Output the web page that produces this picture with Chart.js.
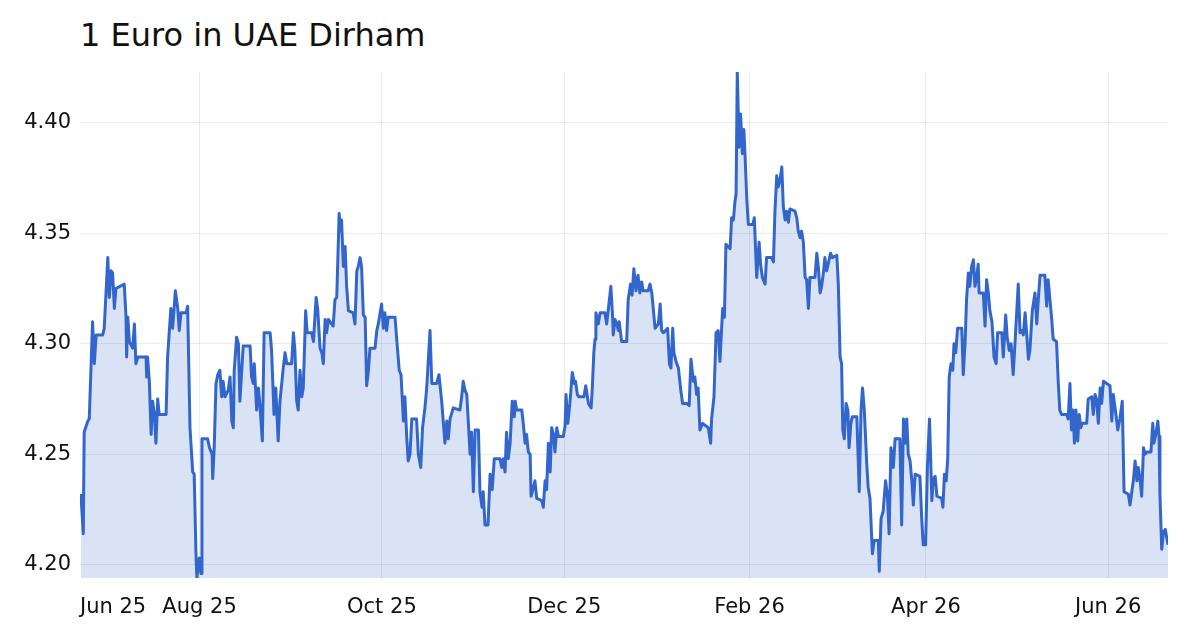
<!DOCTYPE html>
<html>
<head>
<meta charset="utf-8">
<script src="https://cdn.jsdelivr.net/npm/chart.js@4"></script>
<style>
  html, body { margin: 0; padding: 0; background: #fff; }
  .wrap { position: relative; width: 1200px; height: 630px; }
  .title {
    position: absolute; left: 80px; top: 15px;
    font-family: "DejaVu Sans", sans-serif; font-size: 32px; color: #111;
    line-height: 40px; margin: 0; font-weight: normal;
  }
  canvas { position: absolute; left: 0; top: 0; }
</style>
</head>
<body>
<div class="wrap">
  <h1 class="title">1 Euro in UAE Dirham</h1>
  <canvas id="chartCanvas" width="1200" height="630"></canvas>
</div>
<script>
// days since 22 Jun 2025
const rateDays = [
  0.3, 1.1, 1.4, 2.6, 3.1, 4.2, 4.8, 5.4, 7.6, 8.1, 9.3, 9.8, 10.4, 10.9, 11.5, 12.0, 14.8, 15.4, 15.6, 16.0,
  16.5, 17.6, 18.2, 18.7, 19.4, 22.1, 22.3, 22.6, 23.2, 23.8, 24.3, 24.9, 25.4, 26.0, 26.5, 28.8, 29.3, 30.4, 31.0, 31.9,
  32.7, 33.2, 33.8, 35.5, 36.0, 36.8, 37.7, 38.2, 38.8, 39.1, 39.9, 40.5, 40.8, 42.7, 43.3, 44.2, 44.4, 44.9, 45.5, 46.1,
  46.8, 47.4, 47.9, 48.5, 49.6, 50.2, 50.8, 51.3, 51.6, 52.4, 53.0, 53.5, 54.6, 56.9, 57.4, 58.0, 58.3, 59.1, 59.7, 60.2,
  61.0, 61.6, 63.6, 64.1, 64.9, 65.5, 66.3, 66.9, 68.0, 68.6, 69.2, 70.8, 71.4, 71.9, 72.5, 73.0, 73.6, 74.2, 74.7, 75.5,
  76.0, 77.5, 78.1, 79.0, 79.5, 80.3, 80.9, 81.4, 82.0, 82.5, 83.1, 84.7, 85.3, 85.9, 86.7, 87.2, 87.5, 88.1, 88.7, 89.2,
  89.8, 91.4, 92.0, 92.6, 93.1, 93.7, 94.2, 94.8, 95.4, 95.9, 96.5, 97.0, 98.7, 99.3, 99.8, 100.9, 101.5, 102.0, 102.6, 103.1,
  105.4, 105.9, 106.8, 107.4, 108.2, 108.7, 109.3, 109.8, 110.4, 111.0, 112.6, 113.2, 114.0, 114.6, 115.4, 116.0, 117.1, 117.7, 119.3, 120.1,
  121.0, 122.1, 122.7, 123.2, 123.8, 124.9, 127.1, 127.7, 128.2, 128.8, 129.4, 129.9, 130.5, 131.0, 131.6, 132.2, 133.3, 133.8, 134.5, 134.9,
  135.5, 136.5, 137.2, 137.9, 138.6, 140.5, 141.1, 141.6, 142.2, 142.7, 143.3, 143.9, 144.6, 145.3, 145.6, 146.1, 147.8, 148.3, 148.9, 149.4,
  150.0, 150.6, 150.9, 151.7, 152.2, 152.8, 154.5, 155.0, 155.6, 156.1, 156.7, 157.3, 157.8, 158.4, 158.9, 159.5, 160.1, 161.7, 162.3, 162.6,
  163.2, 163.9, 164.7, 165.4, 165.8, 166.4, 166.9, 168.6, 169.2, 170.1, 171.0, 171.4, 171.9, 172.3, 172.6, 173.4, 174.0, 175.6, 176.2, 176.7,
  177.6, 178.2, 178.4, 179.0, 179.6, 180.1, 180.4, 181.2, 182.9, 183.4, 184.2, 184.7, 185.3, 186.0, 186.7, 187.3, 187.9, 188.4, 190.1, 190.7,
  191.3, 192.4, 193.5, 194.1, 194.6, 195.2, 196.6, 197.2, 197.7, 198.3, 198.7, 199.4, 200.2, 201.0, 201.6, 203.0, 203.8, 204.4, 205.2, 205.7,
  206.3, 206.8, 207.4, 208.3, 210.2, 211.0, 211.3, 212.1, 212.8, 213.5, 214.1, 215.0, 215.6, 216.1, 217.5, 218.0, 218.6, 219.1, 219.5, 219.9,
  220.5, 221.0, 221.6, 222.1, 222.5, 223.1, 223.6, 225.1, 225.6, 226.4, 227.2, 227.7, 228.3, 229.2, 229.7, 231.4, 232.0, 232.5, 233.1, 233.6,
  234.2, 234.8, 235.3, 235.9, 236.4, 237.0, 237.5, 239.2, 239.8, 240.3, 240.9, 241.4, 242.0, 242.6, 243.1, 243.7, 244.2, 245.9, 246.5, 247.0,
  247.6, 248.1, 248.7, 249.2, 249.8, 250.3, 251.1, 251.7, 253.2, 253.7, 254.3, 254.8, 255.2, 255.7, 256.3, 256.9, 257.3, 257.9, 258.4, 259.9,
  260.3, 260.7, 261.3, 261.8, 262.4, 263.2, 263.7, 264.3, 265.1, 265.7, 267.1, 267.4, 268.0, 268.7, 269.5, 270.1, 270.7, 271.3, 272.1, 272.7,
  274.3, 274.9, 275.5, 276.1, 276.6, 277.1, 277.7, 278.3, 278.8, 279.4, 281.0, 281.6, 282.1, 282.9, 283.5, 284.2, 285.0, 285.5, 286.1, 286.7,
  288.3, 288.7, 289.2, 289.8, 290.3, 290.8, 291.4, 292.0, 292.4, 293.0, 293.6, 295.0, 295.5, 296.1, 296.6, 297.2, 297.7, 298.3, 298.9, 299.4,
  300.0, 300.5, 300.8, 302.2, 302.8, 303.3, 303.9, 304.4, 305.1, 305.8, 306.5, 307.0, 308.4, 308.9, 309.7, 310.2, 310.9, 311.5, 312.2, 312.8,
  313.9, 314.5, 315.1, 315.6, 316.2, 316.7, 317.3, 317.8, 318.6, 319.5, 320.1, 320.6, 321.2, 322.8, 323.4, 323.9, 324.5, 325.1, 325.6, 326.7,
  327.3, 327.8, 328.4, 330.1, 330.6, 331.2, 331.7, 332.2, 332.7, 333.2, 333.8, 334.3, 334.8, 335.3, 336.8, 337.3, 338.5, 339.0, 339.6, 340.1,
  340.7, 341.3, 341.8, 342.4, 343.5, 344.6, 345.2, 345.7, 346.3, 347.2, 347.9, 348.7, 349.3, 350.7, 351.3, 351.9, 352.4, 353.0, 353.6, 354.1,
  354.7, 355.2, 355.8, 356.3, 356.9, 358.3, 358.9, 359.3, 359.9, 360.6, 361.0, 361.3, 361.9, 362.5, 363.1, 364.0
];

const rateValues = [
  4.232, 4.214, 4.260, 4.265, 4.266, 4.310, 4.291, 4.304, 4.304, 4.307, 4.339, 4.321, 4.333, 4.332, 4.316, 4.325, 4.327, 4.312, 4.294, 4.312,
  4.301, 4.298, 4.309, 4.291, 4.294, 4.294, 4.285, 4.294, 4.283, 4.259, 4.274, 4.268, 4.255, 4.275, 4.268, 4.268, 4.294, 4.316, 4.307, 4.324,
  4.316, 4.306, 4.314, 4.314, 4.317, 4.262, 4.242, 4.241, 4.205, 4.194, 4.203, 4.196, 4.257, 4.257, 4.253, 4.250, 4.239, 4.253, 4.282, 4.286,
  4.288, 4.276, 4.283, 4.276, 4.279, 4.285, 4.265, 4.262, 4.288, 4.303, 4.300, 4.274, 4.299, 4.299, 4.285, 4.282, 4.291, 4.270, 4.280, 4.272,
  4.256, 4.305, 4.305, 4.297, 4.268, 4.280, 4.256, 4.274, 4.289, 4.296, 4.291, 4.291, 4.305, 4.297, 4.274, 4.270, 4.288, 4.276, 4.280, 4.315,
  4.305, 4.305, 4.301, 4.321, 4.316, 4.298, 4.296, 4.291, 4.311, 4.305, 4.311, 4.308, 4.320, 4.321, 4.359, 4.351, 4.356, 4.335, 4.344, 4.326,
  4.315, 4.314, 4.309, 4.333, 4.335, 4.339, 4.335, 4.313, 4.312, 4.281, 4.288, 4.298, 4.298, 4.306, 4.309, 4.318, 4.307, 4.314, 4.306, 4.312,
  4.312, 4.303, 4.288, 4.286, 4.265, 4.276, 4.258, 4.247, 4.250, 4.266, 4.266, 4.250, 4.244, 4.262, 4.271, 4.280, 4.306, 4.282, 4.282, 4.286,
  4.274, 4.255, 4.265, 4.257, 4.266, 4.271, 4.270, 4.276, 4.283, 4.279, 4.277, 4.265, 4.250, 4.260, 4.233, 4.261, 4.261, 4.233, 4.226, 4.233,
  4.218, 4.218, 4.241, 4.234, 4.248, 4.248, 4.244, 4.248, 4.242, 4.260, 4.248, 4.255, 4.274, 4.267, 4.274, 4.270, 4.270, 4.264, 4.255, 4.259,
  4.251, 4.250, 4.231, 4.235, 4.238, 4.230, 4.229, 4.226, 4.238, 4.234, 4.255, 4.242, 4.262, 4.259, 4.251, 4.262, 4.258, 4.258, 4.263, 4.277,
  4.264, 4.273, 4.287, 4.282, 4.283, 4.277, 4.276, 4.276, 4.281, 4.273, 4.271, 4.280, 4.296, 4.302, 4.314, 4.309, 4.314, 4.314, 4.309, 4.315,
  4.326, 4.312, 4.304, 4.311, 4.309, 4.306, 4.310, 4.301, 4.301, 4.320, 4.327, 4.322, 4.334, 4.324, 4.331, 4.323, 4.328, 4.324, 4.324, 4.327,
  4.323, 4.307, 4.309, 4.318, 4.306, 4.305, 4.307, 4.291, 4.289, 4.307, 4.296, 4.292, 4.289, 4.279, 4.273, 4.273, 4.272, 4.293, 4.283, 4.285,
  4.277, 4.280, 4.261, 4.264, 4.262, 4.255, 4.266, 4.276, 4.305, 4.306, 4.292, 4.316, 4.312, 4.345, 4.343, 4.357, 4.356, 4.364, 4.368, 4.423,
  4.389, 4.404, 4.386, 4.397, 4.385, 4.365, 4.354, 4.354, 4.357, 4.330, 4.346, 4.336, 4.330, 4.327, 4.339, 4.339, 4.337, 4.360, 4.376, 4.371,
  4.374, 4.380, 4.362, 4.356, 4.360, 4.355, 4.361, 4.360, 4.357, 4.351, 4.348, 4.351, 4.346, 4.330, 4.329, 4.316, 4.330, 4.330, 4.341, 4.335,
  4.323, 4.326, 4.332, 4.339, 4.333, 4.336, 4.341, 4.339, 4.340, 4.327, 4.294, 4.291, 4.261, 4.257, 4.273, 4.270, 4.253, 4.264, 4.267, 4.267,
  4.250, 4.233, 4.270, 4.280, 4.270, 4.246, 4.235, 4.230, 4.205, 4.211, 4.211, 4.197, 4.221, 4.224, 4.238, 4.232, 4.214, 4.253, 4.244, 4.257,
  4.257, 4.218, 4.266, 4.255, 4.266, 4.250, 4.247, 4.238, 4.227, 4.241, 4.240, 4.221, 4.209, 4.209, 4.244, 4.266, 4.229, 4.239, 4.240, 4.231,
  4.230, 4.226, 4.241, 4.238, 4.248, 4.285, 4.291, 4.288, 4.300, 4.296, 4.307, 4.307, 4.286, 4.300, 4.320, 4.332, 4.326, 4.335, 4.338, 4.326,
  4.330, 4.336, 4.323, 4.323, 4.308, 4.329, 4.323, 4.315, 4.310, 4.294, 4.291, 4.305, 4.305, 4.294, 4.313, 4.303, 4.297, 4.300, 4.286, 4.300,
  4.327, 4.305, 4.306, 4.304, 4.314, 4.305, 4.293, 4.297, 4.315, 4.323, 4.309, 4.320, 4.331, 4.331, 4.317, 4.329, 4.320, 4.311, 4.302, 4.301,
  4.282, 4.270, 4.268, 4.268, 4.266, 4.282, 4.261, 4.270, 4.255, 4.270, 4.256, 4.268, 4.262, 4.264, 4.264, 4.275, 4.276, 4.268, 4.277, 4.275,
  4.264, 4.280, 4.273, 4.283, 4.282, 4.281, 4.265, 4.277, 4.271, 4.261, 4.266, 4.274, 4.233, 4.232, 4.227, 4.233, 4.238, 4.247, 4.238, 4.244,
  4.238, 4.231, 4.253, 4.250, 4.251, 4.251, 4.264, 4.255, 4.259, 4.265, 4.258, 4.232, 4.207, 4.215, 4.216, 4.209
];

// x axis ticks (days since 22 Jun 2025); last one only closes the range
const tickDays = [0, 40, 101, 162, 224, 283, 344, 364];
const tickLabels = ['Jun 25', 'Aug 25', 'Oct 25', 'Dec 25', 'Feb 26', 'Apr 26', 'Jun 26', ''];

const yTicks = [4.20, 4.25, 4.30, 4.35, 4.40];

const points = rateDays.map((d, i) => ({ x: d, y: rateValues[i] }));
const font = { family: 'DejaVu Sans', size: 21 };
const gridColor = 'rgba(0,0,0,0.08)';

new Chart(document.getElementById('chartCanvas'), {
    type: 'line',
    data: {
        datasets: [{
            data: points,
            borderColor: '#3366cc',
            backgroundColor: 'rgba(51,102,204,0.18)',
            borderWidth: 3,
            borderJoinStyle: 'round',
            pointRadius: 0,
            tension: 0,
            fill: 'start'
        }]
    },
    options: {
        responsive: false,
        animation: false,
        layout: { padding: { top: 72, right: 32, bottom: 0, left: 0 } },
        plugins: { legend: { display: false }, tooltip: { enabled: false } },
        scales: {
            x: {
                type: 'linear',
                min: tickDays[0],
                max: tickDays[tickDays.length - 1],
                afterBuildTicks: scale => { scale.ticks = tickDays.map(v => ({ value: v })); },
                afterFit: scale => { scale.height = 52; },
                ticks: {
                    autoSkip: false,
                    maxRotation: 0,
                    align: 'inner',
                    padding: 17,
                    color: '#111',
                    font: font,
                    callback: (value, index) => tickLabels[index]
                },
                grid: {
                    drawTicks: false,
                    color: ctx => (ctx.index === 0 || ctx.index === tickDays.length - 1) ? 'rgba(0,0,0,0)' : gridColor
                },
                border: { display: false }
            },
            y: {
                min: Math.min(...rateValues),
                max: Math.max(...rateValues),
                afterBuildTicks: scale => { scale.ticks = yTicks.map(v => ({ value: v })); },
                afterFit: scale => { scale.width = 80; },
                ticks: {
                    padding: 9,
                    color: '#111',
                    font: font,
                    callback: value => value.toFixed(2)
                },
                grid: { drawTicks: false, color: gridColor },
                border: { display: false }
            }
        }
    }
});
</script>
</body>
</html>
